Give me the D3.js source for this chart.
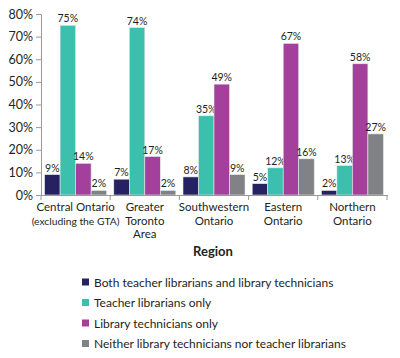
<!DOCTYPE html>
<html><head><meta charset="utf-8">
<script src="https://cdn.jsdelivr.net/npm/d3@7"></script>
<style>body{margin:0;background:#fff}svg{display:block}text{font-family:Lato,"Open Sans",sans-serif;fill:#231f20}</style>
</head><body><svg id="c" width="400" height="358"></svg>
<script>
const regions = ["Central Ontario|(excluding the GTA)", "Greater|Toronto|Area", "Southwestern|Ontario", "Eastern|Ontario", "Northern|Ontario"];
const seriesNames = ["Both teacher librarians and library technicians", "Teacher librarians only", "Library technicians only", "Neither library technicians nor teacher librarians"];
const bothValues = [9, 7, 8, 5, 2];
const teacherOnlyValues = [75, 74, 35, 12, 13];
const technicianOnlyValues = [14, 17, 49, 67, 58];
const neitherValues = [2, 2, 9, 16, 27];
const colors = ["#262262", "#3dbfad", "#a3409b", "#808285"];
const yTicks = [0, 10, 20, 30, 40, 50, 60, 70, 80];
const axisTitle = "Region";

const series = [bothValues, teacherOnlyValues, technicianOnlyValues, neitherValues];
const svg = d3.select("#c");
const y = d3.scaleLinear().domain([0, 80]).range([195, 14]);
const x0b = d3.scaleBand().domain(d3.range(regions.length)).range([41, 387]);
const barW = 15.5;
const x1 = d3.scaleBand().domain(d3.range(series.length)).range([0, 4 * barW]);
const bx = (i, si) => x0b(i) + (x0b.bandwidth() - 4 * barW) / 2 + x1(si);

// y axis
const ya = svg.append("g").attr("transform", "translate(41,0)")
  .call(d3.axisLeft(y).tickValues(yTicks).tickFormat(d => d + "%").tickSize(5).tickSizeOuter(0));
ya.select(".domain").attr("stroke", "#999");
ya.selectAll(".tick line").attr("stroke", "#999");
ya.selectAll(".tick text").style("font-size", "12.5px").attr("x", -8).attr("fill", "#231f20");

// bars
series.forEach((vals, si) => {
  svg.append("g").selectAll("rect").data(vals).join("rect")
    .attr("x", (d, i) => bx(i, si))
    .attr("y", d => y(d)).attr("width", barW).attr("height", d => y(0) - y(d))
    .attr("fill", colors[si]).attr("stroke", "#e8e8e8").attr("stroke-width", 0.6);
  svg.append("g").selectAll("text").data(vals).join("text")
    .attr("x", (d, i) => bx(i, si) + barW / 2)
    .attr("y", d => y(d) - 3).attr("text-anchor", "middle").style("font-size", "10.5px").text(d => d + "%");
});

// x axis
svg.append("line").attr("x1", 41).attr("x2", 388).attr("y1", 195.5).attr("y2", 195.5).attr("stroke", "#999");
svg.append("g").selectAll("line").data(d3.range(regions.length + 1)).join("line")
  .attr("x1", i => i < regions.length ? x0b(i) : 387).attr("x2", i => i < regions.length ? x0b(i) : 387)
  .attr("y1", 195).attr("y2", 200).attr("stroke", "#999");
regions.forEach((r, i) => {
  const cx = x0b(i) + x0b.bandwidth() / 2;
  const t = svg.append("text").attr("x", cx).attr("y", 211).attr("text-anchor", "middle").style("font-size", "11.5px");
  r.split("|").forEach((line, j) => {
    t.append("tspan").attr("x", cx).attr("dy", j ? 13.5 : 0)
      .style("font-size", line.startsWith("(") ? "10.3px" : "11.5px").text(line);
  });
});
svg.append("text").attr("x", 213).attr("y", 256).attr("text-anchor", "middle").style("font-size", "13px").style("font-weight", "bold").text(axisTitle);

// legend
const lg = svg.append("g").selectAll("g").data(seriesNames).join("g").attr("transform", (d, i) => `translate(82,${282 + i * 20.5})`);
lg.append("rect").attr("x", 0).attr("y", -3.5).attr("width", 7).attr("height", 7).attr("fill", (d, i) => colors[i]);
lg.append("text").attr("x", 12).attr("y", 4.5).style("font-size", "12px").text(d => d);
</script></body></html>
